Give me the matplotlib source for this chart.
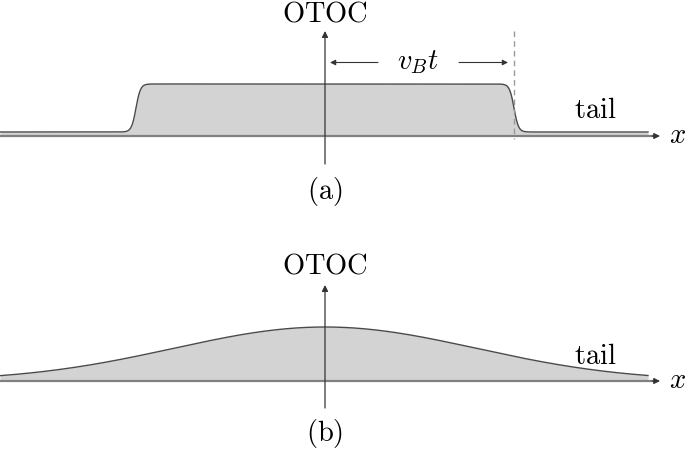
import numpy as np
import matplotlib
matplotlib.use("Agg")
import matplotlib.pyplot as plt

plt.rcParams['mathtext.fontset'] = 'cm'

# ---- schematic parameters (pixel units) ----
# panel (a): butterfly-front profile
origin_a = [325, 136]          # where the OTOC axis meets the x axis
front_position = 189           # v_B t (half-width of plateau)
plateau_height = 52
tail_height_a = 4
front_width = 4.5
# panel (b): diffusive profile
origin_b = [325, 381]
peak_height_b = 54
spread_b = 151
# common extents
fill_left = 0
fill_right = 648
axis_arrow_tip = 660

labels = ["OTOC", "tail", "(a)", "(b)", "x", "v_B t"]

fig = plt.figure(figsize=(6.85, 4.5), dpi=100)
ax = fig.add_axes([0, 0, 1, 1])
ax.set_xlim(0, 685)
ax.set_ylim(450, 0)
ax.axis('off')

fill_c = '#d3d3d3'
edge_c = '#4a4a4a'
axis_c = '#808080'
fs = 20.5

x = np.linspace(fill_left, fill_right, 2000)

def draw_panel(ox, oy, h, vtop, vbot, tag, tag_y, otoc_y):
    y = oy - h
    ax.fill_between(x, oy, y, color=fill_c, lw=0, zorder=1)
    ax.plot(x, y, color=edge_c, lw=1.0, zorder=2)
    # x axis
    ax.plot([0, axis_arrow_tip - 6], [oy, oy], color=axis_c, lw=1.6, zorder=3)
    ax.annotate('', xy=(axis_arrow_tip, oy), xytext=(axis_arrow_tip - 8, oy),
                arrowprops=dict(arrowstyle='-|>', color='#333333', lw=0.8,
                                mutation_scale=9, shrinkA=0, shrinkB=0), zorder=4)
    ax.text(678, oy - 1, r'$x$', fontsize=fs, ha='center', va='center')
    # vertical axis
    ax.annotate('', xy=(ox, vtop), xytext=(ox, vbot),
                arrowprops=dict(arrowstyle='-|>', color='#333333', lw=0.9,
                                mutation_scale=9, shrinkA=0, shrinkB=0), zorder=4)
    ax.text(ox, otoc_y, r'$\mathrm{OTOC}$', fontsize=fs, ha='center', va='center')
    ax.text(ox, tag_y, r'$\mathrm{' + tag + '}$', fontsize=fs, ha='center', va='center')

# panel (a)
oxa, oya = origin_a
xa = x - oxa
ha = tail_height_a + (plateau_height - tail_height_a) * 0.5 * (
    np.tanh((xa + front_position) / front_width) - np.tanh((xa - front_position) / front_width))
draw_panel(oxa, oya, ha, 31, 164, '(a)', 191, 14)
ax.text(595, 110, r'$\mathrm{tail}$', fontsize=fs, ha='center', va='center')
# dashed front marker
xf = oxa + front_position
ax.plot([xf, xf], [31, 139], color='#999999', lw=1.0, ls=(0, (4, 3)), zorder=3)
# v_B t arrows
ay = 62.5
ax.annotate('', xy=(oxa + 5, ay), xytext=(378, ay),
            arrowprops=dict(arrowstyle='-|>', color='#333333', lw=0.8,
                            mutation_scale=8, shrinkA=0, shrinkB=0))
ax.annotate('', xy=(xf - 6, ay), xytext=(459, ay),
            arrowprops=dict(arrowstyle='-|>', color='#333333', lw=0.8,
                            mutation_scale=8, shrinkA=0, shrinkB=0))
ax.text(418, ay - 1, r'$v_Bt$', fontsize=fs, ha='center', va='center')

# panel (b)
oxb, oyb = origin_b
xb = x - oxb
hb = peak_height_b * np.exp(-xb**2 / (2 * spread_b**2))
draw_panel(oxb, oyb, hb, 285, 408, '(b)', 433, 266)
ax.text(595, 356, r'$\mathrm{tail}$', fontsize=fs, ha='center', va='center')

fig.savefig('out.png', dpi=100)
